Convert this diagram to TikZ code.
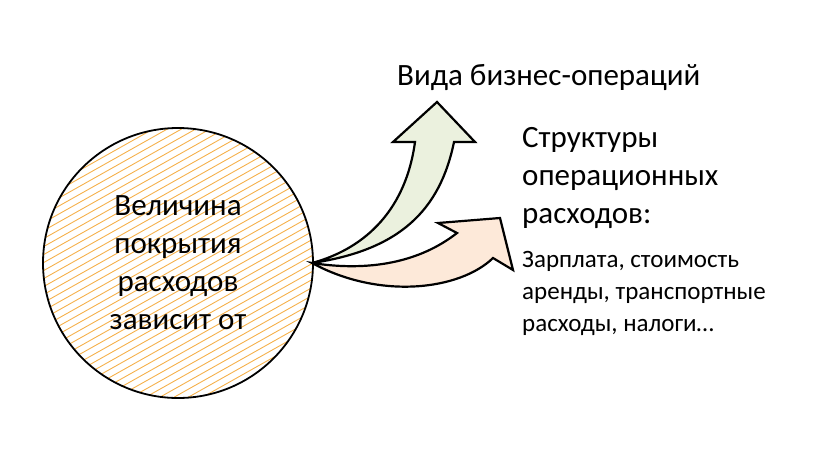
\documentclass[tikz,border=0pt]{standalone}
\usepackage{fontspec}
\setmainfont{Carlito}
\usetikzlibrary{calc}
\definecolor{gfill}{HTML}{EBF1DE}
\definecolor{pfill}{HTML}{FDE9D9}
\definecolor{hatch}{HTML}{F5B04A}
\begin{document}
\begin{tikzpicture}[x=1pt,y=-1pt,
  outl/.style={draw=black,line width=2.2pt,line join=miter},
  big/.style={font=\fontsize{31}{38}\selectfont,align=left,inner sep=0},
  small/.style={font=\fontsize{25}{32}\selectfont,align=left,inner sep=0}]
\useasboundingbox (0,0) rectangle (835,450);
\coordinate (c) at (178,263);
\begin{scope}
\clip (c) circle (135);
\foreach \i in {-300,-292,...,300}{
  \draw[hatch, line width=0.9pt] ($(c)+(-160,\i+90)$) -- ($(c)+(160,\i-90)$);
}
\end{scope}
\draw[line width=1.8pt] (c) circle (135);
\node[big,align=center] (t) at (c) {Величина\\покрытия\\расходов\\зависит от};
% green arrow
\draw[outl,fill=gfill] (312,263)
  .. controls (360,250) and (405,215) .. (415,142) -- (393,142) -- (437,102) -- (475,142) -- (454,142)
  .. controls (440,210) and (400,250) .. (312,263) -- cycle;
% pink arrow
\draw[outl,fill=pfill] (312,263)
  .. controls (370,272) and (420,262) .. (457,233) -- (438,223) -- (500,218) -- (513,270) -- (493,258)
  .. controls (460,290) and (380,300) .. (312,263) -- cycle;
\node[big,anchor=west] (a) at (397,77) {Вида бизнес-операций};
\node[big,anchor=north west] (b) at (522,127) {Структуры\\операционных\\расходов:};
\node[small,anchor=north west] (s) at (522,251) {Зарплата, стоимость\\аренды, транспортные\\расходы, налоги…};
\end{tikzpicture}
\end{document}
